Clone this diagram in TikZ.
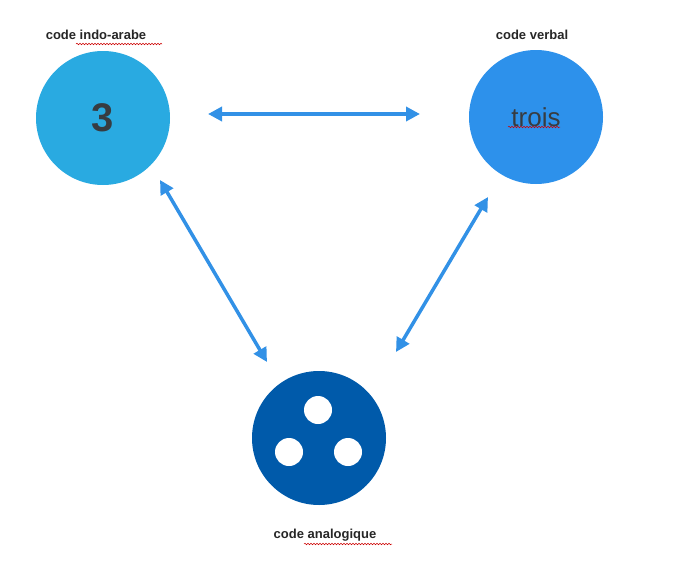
\documentclass[tikz,border=0pt]{standalone}
\usepackage{fontspec}
\setmainfont{Liberation Sans}
\usetikzlibrary{arrows.meta,positioning,decorations.pathmorphing}
\definecolor{cblue}{RGB}{41,170,225}
\definecolor{vblue}{RGB}{45,145,235}
\definecolor{ablue}{RGB}{0,90,170}
\definecolor{arblue}{RGB}{50,145,230}
\definecolor{tgrey}{RGB}{55,60,65}

\begin{document}
\begin{tikzpicture}[x=1pt,y=-1pt]
    \tikzstyle{code}=[circle,draw=none,minimum size=134pt,inner sep=0pt]
    \tikzstyle{lbl}=[font=\bfseries\fontsize{13}{15}\selectfont,text=black!85]
    \tikzstyle{dbl}=[{Triangle[length=14pt,width=14pt]}-{Triangle[length=14pt,width=14pt]},line width=3.5pt,draw=arblue]
    \tikzstyle{dot}=[circle,fill=white,minimum size=28pt,inner sep=0pt]
    \tikzstyle{squig}=[draw=red!80!black,line width=0.5pt,decorate,decoration={snake,amplitude=0.8pt,segment length=3pt}]

    \useasboundingbox (0,0) rectangle (691,573);

    \node[code,fill=cblue] (indo) at (103,118) {\fontsize{40}{44}\selectfont\bfseries\textcolor{tgrey}{3}};
    \node[code,fill=vblue] (verbal) at (536,117) {\fontsize{26}{30}\selectfont\textcolor{tgrey}{trois}};
    \node[code,fill=ablue] (analog) at (319,438) {};
    \node[dot] (d1) at (318,410) {};
    \node[dot] (d2) at (289,452) {};
    \node[dot] (d3) at (348,452) {};

    \node[lbl] (lindo) at (96,35) {code indo-arabe};
    \node[lbl] (lverbal) at (532,35) {code verbal};
    \node[lbl] (lanalog) at (325,535) {code analogique};

    % spell-check marks
    \draw[squig] (76,44) -- (162,44);
    \draw[squig] (508,127) -- (560,127);
    \draw[squig] (304,544) -- (392,544);

    \coordinate (hl) at (208,114);
    \coordinate (hr) at (420,114);
    \coordinate (ll) at (160,180);
    \coordinate (lr) at (267,362);
    \coordinate (rl) at (488,197);
    \coordinate (rr) at (396,352);

    \draw[dbl] (hl) -- (hr);
    \draw[dbl] (ll) -- (lr);
    \draw[dbl] (rl) -- (rr);
\end{tikzpicture}
\end{document}
